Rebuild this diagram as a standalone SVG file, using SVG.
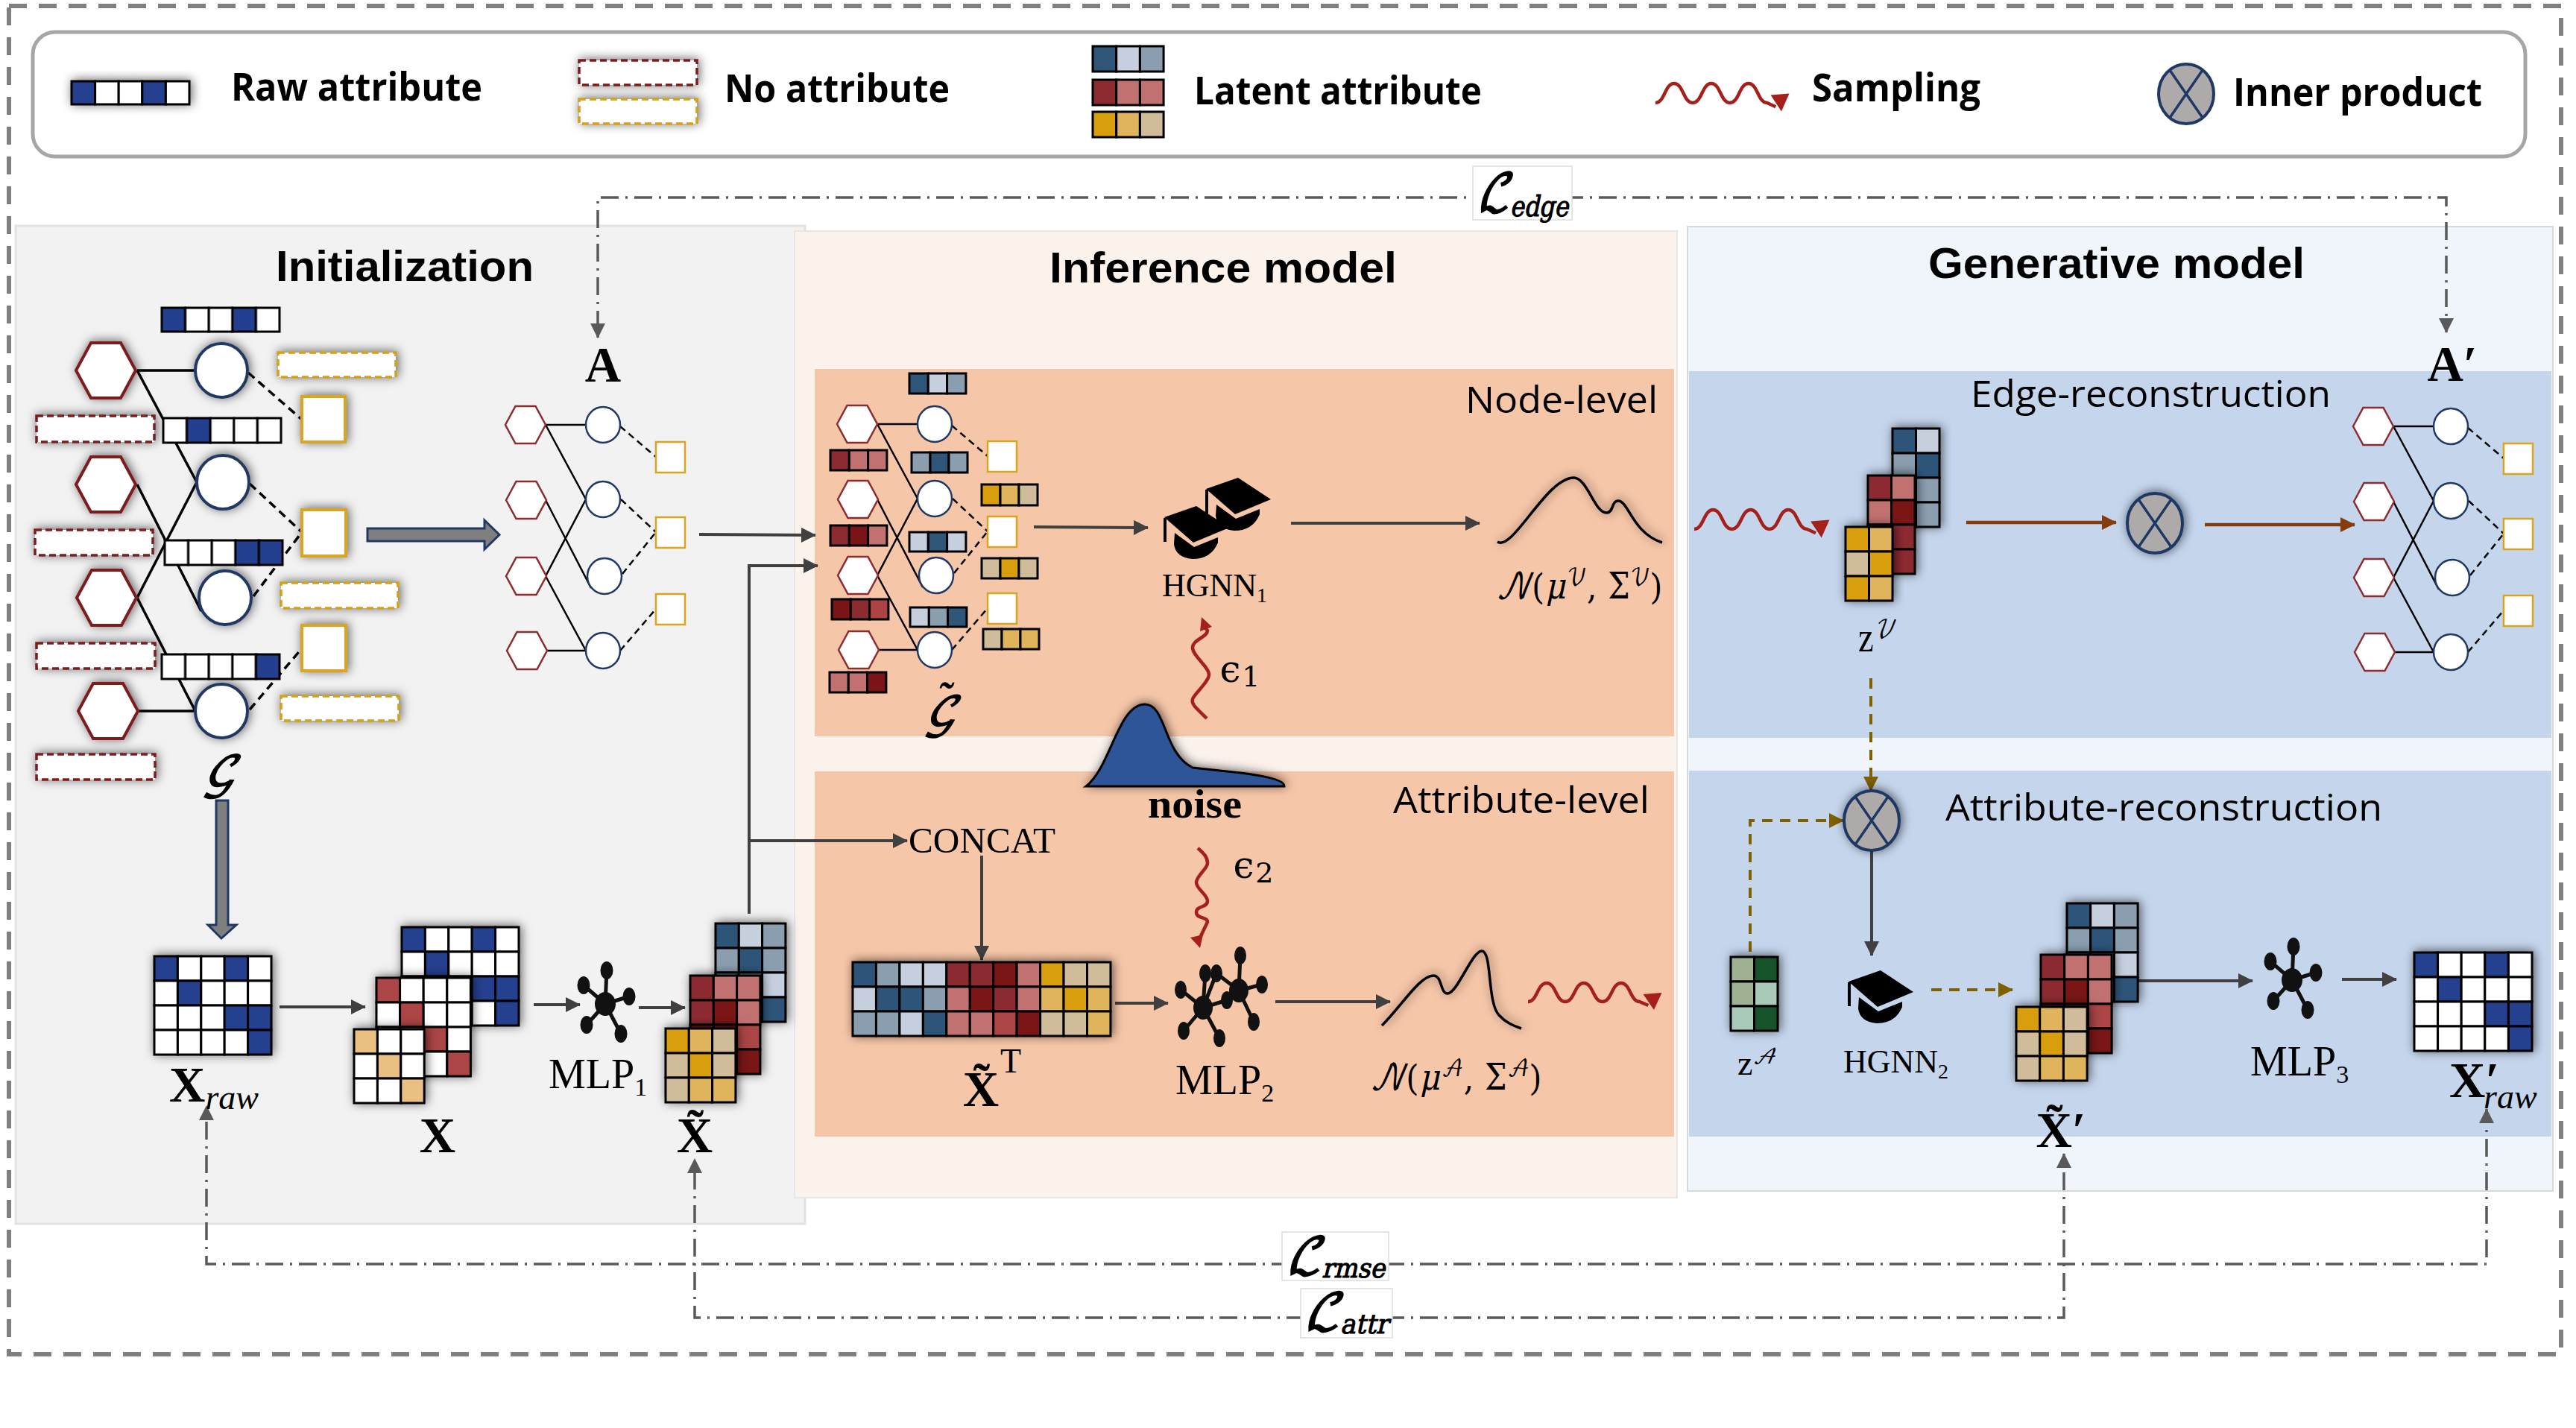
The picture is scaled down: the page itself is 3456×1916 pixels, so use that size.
<svg xmlns="http://www.w3.org/2000/svg" width="3456" height="1916" viewBox="0 0 3456 1916">
<style>
text{font-family:"Liberation Serif","DejaVu Math TeX Gyre","DejaVu Serif",serif;fill:#000}
.sb{font-family:"Open Sans","Noto Sans",sans-serif;font-weight:700;font-size:52px}
.sr{font-family:"Open Sans","Noto Sans",sans-serif;font-size:50px}
.ti{font-family:"Liberation Sans",sans-serif;font-weight:700;font-size:58px}
.lab{font-size:56px}
.labs{font-size:34px}
.big{font-size:67px;font-weight:700}
.it{font-style:italic}
.math{font-family:"DejaVu Math TeX Gyre","Liberation Serif",serif}
.ns{vector-effect:non-scaling-stroke}
#u{vector-effect:non-scaling-stroke;stroke:#000;stroke-width:3}
.w{fill:#fff}.b{fill:#253f90}.d{fill:#2f5579}.l{fill:#c6cfdd}.m{fill:#8a9eaf}.r{fill:#8c2b30}.D{fill:#7a1417}.p{fill:#c07170}.s{fill:#ac4444}.O{fill:#d99e0c}.Y{fill:#dfb45c}.T{fill:#d0bc9a}.o{fill:#e9c082}.g1{fill:#9fb093}.g2{fill:#12522a}.g3{fill:#a9c9b9}
.hexl{fill:#fff;stroke:#7b1c1f;stroke-width:4}
.circl{fill:#fff;stroke:#203864;stroke-width:4}
.sql{fill:#fff;stroke:#d9a520;stroke-width:4}
.hexs{fill:#fff;stroke:#8c2b30;stroke-width:2.5}
.circs{fill:#fff;stroke:#203864;stroke-width:2.5}
.sqs{fill:#fff;stroke:#d9a520;stroke-width:2.5}
.e{fill:none;stroke:#000;stroke-width:2.5}
.ed{fill:none;stroke:#000;stroke-width:2.5;stroke-dasharray:9 6}
.da{fill:#fff;stroke:#7b1c1f;stroke-width:3.5;stroke-dasharray:9 5}
.dy{fill:#fff;stroke:#d4a017;stroke-width:3.5;stroke-dasharray:9 5}
.ar{fill:none;stroke:#404040;stroke-width:4;marker-end:url(#mA)}
.br{fill:none;stroke:#843c0c;stroke-width:4.500;marker-end:url(#mB)}
.go{fill:none;stroke:#7f6000;stroke-width:4;stroke-dasharray:14 10;marker-end:url(#mG)}
.dd{fill:none;stroke:#595959;stroke-width:3.5;stroke-dasharray:24 9 3 9;marker-end:url(#mD)}
.red{fill:none;stroke:#a5201a;stroke-width:4.5}
.redf{fill:#a5201a}
.ip{fill:#aeaaaa;stroke:#1f3864;stroke-width:4}
.lossbox{fill:#fff;stroke:#ddd;stroke-width:1.5}
.curve{fill:none;stroke:#000;stroke-width:3.5}
.fat{fill:#7f7f7f;stroke:#203864;stroke-width:3}
.g2s{font-size:36px}
</style>
<defs>
<filter id="sh" x="-25%" y="-45%" width="150%" height="190%"><feDropShadow dx="2" dy="-1" stdDeviation="7" flood-color="#000" flood-opacity=".6"/></filter>
<marker id="mA" viewBox="0 0 10 10" refX="9.500" refY="5" markerWidth="22" markerHeight="20" orient="auto" markerUnits="userSpaceOnUse"><path d="M0 0L10 5L0 10z" fill="#404040"/></marker>
<marker id="mB" viewBox="0 0 10 10" refX="9.500" refY="5" markerWidth="22" markerHeight="20" orient="auto" markerUnits="userSpaceOnUse"><path d="M0 0L10 5L0 10z" fill="#843c0c"/></marker>
<marker id="mG" viewBox="0 0 10 10" refX="9.500" refY="5" markerWidth="22" markerHeight="20" orient="auto" markerUnits="userSpaceOnUse"><path d="M0 0L10 5L0 10z" fill="#7f6000"/></marker>
<marker id="mD" viewBox="0 0 10 10" refX="9.500" refY="5" markerWidth="20" markerHeight="20" orient="auto" markerUnits="userSpaceOnUse"><path d="M0 0L10 5L0 10z" fill="#595959"/></marker>
<rect id="u" width="1" height="1"/>
<path id="hex" class="ns" d="M-1 0L-.5 -1H.5L1 0L.5 1H-.5Z"/>
<circle id="circ" class="ns" r="1"/>
<g id="mRaw" fill="#fff">
<use href="#u" class="b"/><use href="#u" x="1"/><use href="#u" x="2"/><use href="#u" x="3" class="b"/><use href="#u" x="4"/>
<use href="#u" y="1"/><use href="#u" x="1" y="1" class="b"/><use href="#u" x="2" y="1"/><use href="#u" x="3" y="1"/><use href="#u" x="4" y="1"/>
<use href="#u" y="2"/><use href="#u" x="1" y="2"/><use href="#u" x="2" y="2"/><use href="#u" x="3" y="2" class="b"/><use href="#u" x="4" y="2" class="b"/>
<use href="#u" y="3"/><use href="#u" x="1" y="3"/><use href="#u" x="2" y="3"/><use href="#u" x="3" y="3"/><use href="#u" x="4" y="3" class="b"/>
</g>
<g id="mB3">
<use href="#u" class="d"/><use href="#u" x="1" class="l"/><use href="#u" x="2" class="m"/>
<use href="#u" y="1" class="m"/><use href="#u" x="1" y="1" class="d"/><use href="#u" x="2" y="1" class="m"/>
<use href="#u" y="2" class="m"/><use href="#u" x="1" y="2" class="m"/><use href="#u" x="2" y="2" class="l"/>
<use href="#u" y="3" class="m"/><use href="#u" x="1" y="3" class="m"/><use href="#u" x="2" y="3" class="d"/>
</g>
<g id="mR3">
<use href="#u" class="r"/><use href="#u" x="1" class="p"/><use href="#u" x="2" class="p"/>
<use href="#u" y="1" class="r"/><use href="#u" x="1" y="1" class="D"/><use href="#u" x="2" y="1" class="p"/>
<use href="#u" y="2" class="D"/><use href="#u" x="1" y="2" class="D"/><use href="#u" x="2" y="2" class="s"/>
<use href="#u" y="3" class="r"/><use href="#u" x="1" y="3" class="r"/><use href="#u" x="2" y="3" class="D"/>
</g>
<g id="mY3">
<use href="#u" class="O"/><use href="#u" x="1" class="Y"/><use href="#u" x="2" class="T"/>
<use href="#u" y="1" class="T"/><use href="#u" x="1" y="1" class="O"/><use href="#u" x="2" y="1" class="T"/>
<use href="#u" y="2" class="T"/><use href="#u" x="1" y="2" class="Y"/><use href="#u" x="2" y="2" class="Y"/>
</g>
<g id="wave"><path class="red ns" d="M0 25C13 25 13 0 26 0S39 25 52 25S65 0 78 0S91 25 104 25S117 0 130 0S143 25 156 25L168 30"/><path class="redf" d="M161 15L187 13L176 36Z"/></g>
<g id="cap"><path d="M0 -24L44 5L-4 25L-43 -9Z" fill="#000"/><path d="M-29 12L-3 31L29 18V25Q20 47 -5 47Q-28 45 -30 27Z" fill="#000"/><path d="M-42 -8V24" stroke="#000" stroke-width="4" fill="none"/></g>
<g id="star"><path d="M0 0L2 -45M0 0L-29 -25M0 0L32 -10M0 0L-25 28M0 0L21 40" stroke="#111" stroke-width="5" fill="none"/><ellipse rx="14" ry="16" fill="#111"/><ellipse cx="2" cy="-45" rx="8.500" ry="12" fill="#111"/><ellipse cx="-29" cy="-25" rx="8.500" ry="12" fill="#111"/><ellipse cx="32" cy="-10" rx="8.500" ry="12" fill="#111"/><ellipse cx="-25" cy="28" rx="8.500" ry="12" fill="#111"/><ellipse cx="21" cy="40" rx="8.500" ry="12" fill="#111"/></g>
<g id="smallEdges"><path class="e" d="M27 0H81M27 0L81 100M27 101L88 219M27 203L81 100M27 203L81 303M27 303H81"/><path class="ed" d="M127 2L175 43M128 100L175 144M130 200L175 144M127 303L175 247"/></g>
<g id="smallNodes">
<use href="#hex" class="hexs" transform="translate(0 0) scale(27 25)"/><use href="#hex" class="hexs" transform="translate(1 101) scale(27 25)"/><use href="#hex" class="hexs" transform="translate(1 203) scale(27 25)"/><use href="#hex" class="hexs" transform="translate(2 303) scale(27 25)"/>
<use href="#circ" class="circs" transform="translate(104 0) scale(23 24)"/><use href="#circ" class="circs" transform="translate(104 100) scale(23 24)"/><use href="#circ" class="circs" transform="translate(106 203) scale(23 24)"/><use href="#circ" class="circs" transform="translate(104 303) scale(23 24)"/>
<rect class="sqs" x="175" y="23" width="39" height="41"/><rect class="sqs" x="175" y="124" width="39" height="41"/><rect class="sqs" x="175" y="227" width="39" height="41"/>
</g>
<g id="ipm"><ellipse class="ip" rx="37" ry="40"/><path d="M-22 -32L22 32M22 -32L-22 32" stroke="#1f3864" stroke-width="3.5" fill="none"/></g>
</defs>

<g id="frame"><rect x="12" y="8" width="3424" height="1809" fill="none" stroke="#808080" stroke-width="6" stroke-dasharray="24 16"/></g>

<g id="panels">
<rect x="21" y="303" width="1059" height="1339" fill="#f2f2f2" stroke="#e2e2e2" stroke-width="3"/>
<rect x="1066" y="310" width="1184" height="1297" fill="#fbf2ec" stroke="#e6e6e6" stroke-width="2"/>
<rect x="2264" y="304" width="1161" height="1294" fill="#eff5fa" stroke="#d9d9d9" stroke-width="2"/>
<rect x="1093" y="495" width="1153" height="493" fill="#f6c6a8"/>
<rect x="1093" y="1035" width="1153" height="490" fill="#f6c6a8"/>
<rect x="2266" y="498" width="1157" height="492" fill="#c5d5ec"/>
<rect x="2266" y="1034" width="1157" height="491" fill="#c5d5ec"/>
<text class="ti" x="370" y="377" textLength="346" lengthAdjust="spacingAndGlyphs">Initialization</text>
<text class="ti" x="1408" y="379" textLength="466" lengthAdjust="spacingAndGlyphs">Inference model</text>
<text class="ti" x="2587" y="373" textLength="505" lengthAdjust="spacingAndGlyphs">Generative model</text>
<text class="sr" x="1966" y="554" textLength="258" lengthAdjust="spacingAndGlyphs">Node-level</text>
<text class="sr" x="1869" y="1091" textLength="344" lengthAdjust="spacingAndGlyphs">Attribute-level</text>
<text class="sr" x="2644" y="546" textLength="483" lengthAdjust="spacingAndGlyphs">Edge-reconstruction</text>
<text class="sr" x="2610" y="1101" textLength="586" lengthAdjust="spacingAndGlyphs">Attribute-reconstruction</text>
</g>

<g id="legend">
<rect x="44" y="43" width="3344" height="167" rx="30" fill="#fff" stroke="#a6a6a6" stroke-width="5"/>
<g id="legend-raw"><g filter="url(#sh)"><g transform="translate(96 109) scale(31.6 31)" fill="#fff"><use href="#u" class="b"/><use href="#u" x="1"/><use href="#u" x="2"/><use href="#u" x="3" class="b"/><use href="#u" x="4"/></g></g>
<text class="sb" x="310" y="135" textLength="337" lengthAdjust="spacingAndGlyphs">Raw attribute</text></g>
<g id="legend-none"><rect class="da" x="777" y="81" width="158" height="33" filter="url(#sh)"/><rect class="dy" x="777" y="133" width="158" height="33" filter="url(#sh)"/>
<text class="sb" x="972" y="137" textLength="302" lengthAdjust="spacingAndGlyphs">No attribute</text></g>
<g id="legend-latent">
<g transform="translate(1466 62) scale(31.7 34)"><use href="#u" class="d"/><use href="#u" x="1" class="l"/><use href="#u" x="2" class="m"/></g>
<g transform="translate(1466 107) scale(31.7 34)"><use href="#u" class="r"/><use href="#u" x="1" class="p"/><use href="#u" x="2" class="p"/></g>
<g transform="translate(1466 150) scale(31.7 34)"><use href="#u" class="O"/><use href="#u" x="1" class="Y"/><use href="#u" x="2" class="T"/></g>
<text class="sb" x="1602" y="140" textLength="386" lengthAdjust="spacingAndGlyphs">Latent attribute</text></g>
<g id="legend-sampling"><use href="#wave" transform="translate(2221 112) scale(.96 1.04)"/>
<text class="sb" x="2431" y="136" textLength="226" lengthAdjust="spacingAndGlyphs">Sampling</text></g>
<g id="legend-inner"><use href="#ipm" transform="translate(2933 126)"/>
<text class="sb" x="2996" y="142" textLength="334" lengthAdjust="spacingAndGlyphs">Inner product</text></g>
</g>

<g id="connectors">
<path class="dd" d="M2000 265H802V453"/>
<path class="dd" d="M2100 265H3282V446"/>
<path class="dd" d="M1730 1696H277V1484"/>
<path class="dd" d="M1860 1696H3336V1488"/>
<path class="dd" d="M1750 1768H932V1555"/>
<path class="dd" d="M1860 1768H2769V1548"/>
<path class="ar" d="M938 717L1094 718"/>
<path class="ar" d="M1005 1226V759H1097"/>
<path class="ar" d="M1005 1128H1217"/>
<path class="ar" d="M1317 1148V1288"/>
<path class="ar" d="M1387 707L1540 708"/>
<path class="ar" d="M1732 702H1985"/>
<path class="ar" d="M1496 1346H1567"/>
<path class="ar" d="M1711 1344H1865"/>
<path class="ar" d="M375 1351H490"/>
<path class="ar" d="M716 1348H778"/>
<path class="ar" d="M857 1352H919"/>
<path class="ar" d="M2511 1141V1282"/>
<path class="ar" d="M2868 1316H3022"/>
<path class="ar" d="M3142 1314H3215"/>
<path class="br" d="M2638 701H2839"/>
<path class="br" d="M2958 704H3159"/>
<path class="go" d="M2510 910V1061"/>
<path class="go" d="M2348 1277V1101H2473"/>
<path class="go" d="M2591 1328H2700"/>
<path class="fat" d="M493 709H650V698L670 717.500L650 737V726H493Z"/>
<path class="fat" d="M290 1074H306V1241H317L297 1259L279 1241H290Z"/>
</g>

<g id="loss-edge"><rect class="lossbox" x="1976" y="223" width="133" height="72"/><text x="1982" y="282" class="math it" font-size="68" font-weight="700" textLength="122" lengthAdjust="spacingAndGlyphs">ℒ<tspan font-size="38" dy="8">edge</tspan></text></g>
<g id="loss-rmse"><rect class="lossbox" x="1720" y="1653" width="143" height="65"/><text x="1726" y="1708" class="math it" font-size="66" font-weight="700" textLength="132" lengthAdjust="spacingAndGlyphs">ℒ<tspan font-size="36" dy="6">rmse</tspan></text></g>
<g id="loss-attr"><rect class="lossbox" x="1745" y="1729" width="123" height="66"/><text x="1750" y="1783" class="math it" font-size="66" font-weight="700" textLength="112" lengthAdjust="spacingAndGlyphs">ℒ<tspan font-size="36" dy="6">attr</tspan></text></g>

<g id="node-G">
<g><path d="M184 497H263M184 497L264 647M184 650L270 820M184 802L264 647M184 802L262 954M186 954H262" fill="none" stroke="#000" stroke-width="3.500"/>
<path d="M333 500L405 563M335 649L405 714M340 800L405 714M335 952L405 870" fill="none" stroke="#000" stroke-width="3.500" stroke-dasharray="11 7"/></g>
<g filter="url(#sh)">
<use href="#hex" class="hexl" transform="translate(142 497) scale(40 37)"/><use href="#hex" class="hexl" transform="translate(142 650) scale(40 37)"/><use href="#hex" class="hexl" transform="translate(143 802) scale(40 37)"/><use href="#hex" class="hexl" transform="translate(145 954) scale(40 37)"/>
<use href="#circ" class="circl" transform="translate(297 497) scale(35 36)"/><use href="#circ" class="circl" transform="translate(299 647) scale(35 36)"/><use href="#circ" class="circl" transform="translate(302 802) scale(35 36)"/><use href="#circ" class="circl" transform="translate(297 954) scale(35 36)"/>
<rect class="sql" x="405" y="532" width="58" height="61"/><rect class="sql" x="405" y="684" width="59" height="62"/><rect class="sql" x="405" y="839" width="59" height="61"/>
<rect class="da" x="49" y="558" width="158" height="35"/><rect class="da" x="47" y="711" width="158" height="34"/><rect class="da" x="49" y="863" width="159" height="34"/><rect class="da" x="49" y="1012" width="159" height="34"/>
<rect class="dy" x="373" y="473" width="158" height="33"/><rect class="dy" x="377" y="782" width="157" height="34"/><rect class="dy" x="377" y="934" width="158" height="33"/>
</g>
<g fill="#fff">
<g transform="translate(217 413) scale(31.6 32)"><use href="#u" class="b"/><use href="#u" x="1"/><use href="#u" x="2"/><use href="#u" x="3" class="b"/><use href="#u" x="4"/></g>
<g transform="translate(219 561) scale(31.6 33)"><use href="#u"/><use href="#u" x="1" class="b"/><use href="#u" x="2"/><use href="#u" x="3"/><use href="#u" x="4"/></g>
<g transform="translate(221 725) scale(31.6 33)"><use href="#u"/><use href="#u" x="1"/><use href="#u" x="2"/><use href="#u" x="3" class="b"/><use href="#u" x="4" class="b"/></g>
<g transform="translate(217 878) scale(31.6 33)"><use href="#u"/><use href="#u" x="1"/><use href="#u" x="2"/><use href="#u" x="3"/><use href="#u" x="4" class="b"/></g>
</g>
<text class="math it" x="295" y="1056" font-size="58" font-weight="700" text-anchor="middle">𝒢</text>
</g>

<g id="node-A"><g transform="translate(705 570)"><use href="#smallEdges"/><use href="#smallNodes"/></g>
<text class="big" x="809" y="512" text-anchor="middle">A</text></g>

<g id="node-Xraw"><g filter="url(#sh)"><g transform="translate(207 1283) scale(31.4 33)"><use href="#mRaw"/></g></g>
<text class="big" x="227" y="1478">X<tspan class="it" style="font-size:46px;font-weight:400" dy="10">raw</tspan></text></g>

<g id="node-X">
<g filter="url(#sh)"><g transform="translate(539 1244) scale(31.4 33)"><use href="#mRaw"/></g></g>
<g filter="url(#sh)"><g transform="translate(505 1312) scale(31.6 33)" fill="#fff">
<use href="#u" class="s"/><use href="#u" x="1"/><use href="#u" x="2"/><use href="#u" x="3"/>
<use href="#u" y="1"/><use href="#u" x="1" y="1" class="s"/><use href="#u" x="2" y="1"/><use href="#u" x="3" y="1"/>
<use href="#u" y="2"/><use href="#u" x="1" y="2"/><use href="#u" x="2" y="2" class="s"/><use href="#u" x="3" y="2"/>
<use href="#u" y="3"/><use href="#u" x="1" y="3"/><use href="#u" x="2" y="3"/><use href="#u" x="3" y="3" class="s"/>
</g></g>
<g filter="url(#sh)"><g transform="translate(475 1381) scale(31.4 33)" fill="#fff">
<use href="#u" class="o"/><use href="#u" x="1"/><use href="#u" x="2"/>
<use href="#u" y="1"/><use href="#u" x="1" y="1" class="o"/><use href="#u" x="2" y="1"/>
<use href="#u" y="2"/><use href="#u" x="1" y="2"/><use href="#u" x="2" y="2" class="o"/>
</g></g>
<text class="big" x="587" y="1546" text-anchor="middle">X</text></g>

<g id="node-MLP1"><use href="#star" transform="translate(812 1347)"/><text class="lab" x="736" y="1460">MLP<tspan class="labs" dy="10">1</tspan></text></g>

<g id="node-Xt">
<g filter="url(#sh)"><g transform="translate(960 1239) scale(31.3 33)"><use href="#mB3"/></g></g>
<g filter="url(#sh)"><g transform="translate(926 1309) scale(31.3 33)"><use href="#mR3"/></g></g>
<g filter="url(#sh)"><g transform="translate(893 1380) scale(31.3 33)"><use href="#mY3"/></g></g>
<text class="big" x="932" y="1546" text-anchor="middle">X̃</text></g>

<g id="node-Gt"><g transform="translate(1150 569)"><use href="#smallEdges"/><use href="#smallNodes"/></g>
<g transform="translate(1220 501) scale(25.3 27)"><use href="#u" class="d"/><use href="#u" x="1" class="l"/><use href="#u" x="2" class="m"/></g>
<g transform="translate(1223 607) scale(25 27)"><use href="#u" class="m"/><use href="#u" x="1" class="d"/><use href="#u" x="2" class="m"/></g>
<g transform="translate(1220 714) scale(25.3 26)"><use href="#u" class="l"/><use href="#u" x="1" class="d"/><use href="#u" x="2" class="l"/></g>
<g transform="translate(1221 815) scale(25.3 26)"><use href="#u" class="l"/><use href="#u" x="1" class="m"/><use href="#u" x="2" class="d"/></g>
<g transform="translate(1114 604) scale(25.3 27)"><use href="#u" class="r"/><use href="#u" x="1" class="p"/><use href="#u" x="2" class="p"/></g>
<g transform="translate(1114 705) scale(25.3 27)"><use href="#u" class="r"/><use href="#u" x="1" class="D"/><use href="#u" x="2" class="p"/></g>
<g transform="translate(1116 804) scale(25.3 27)"><use href="#u" class="D"/><use href="#u" x="1" class="r"/><use href="#u" x="2" class="s"/></g>
<g transform="translate(1113 902) scale(25.3 27)"><use href="#u" class="p"/><use href="#u" x="1" class="p"/><use href="#u" x="2" class="D"/></g>
<g transform="translate(1317 650) scale(25 28)"><use href="#u" class="O"/><use href="#u" x="1" class="Y"/><use href="#u" x="2" class="T"/></g>
<g transform="translate(1317 749) scale(25 27)"><use href="#u" class="T"/><use href="#u" x="1" class="O"/><use href="#u" x="2" class="T"/></g>
<g transform="translate(1319 844) scale(25 27)"><use href="#u" class="T"/><use href="#u" x="1" class="Y"/><use href="#u" x="2" class="Y"/></g>
<text class="math it" x="1241" y="975" font-size="56" font-weight="700">𝒢<tspan x="1258" y="955" style="font-family:'Liberation Serif';font-size:56px">˜</tspan></text></g>

<g id="node-HGNN1"><use href="#cap" transform="translate(1661 665)"/><use href="#cap" transform="translate(1605 703)"/><text x="1559" y="800" style="font-size:44px">HGNN<tspan style="font-size:28px" dy="8">1</tspan></text></g>

<g id="node-NV"><path class="curve" filter="url(#sh)" d="M2009 727C2030 740 2075 640 2112 641C2130 642 2140 690 2156 688C2165 687 2162 672 2171 672C2185 672 2190 715 2230 728"/>
<text x="2007" y="803" style="font-size:48px" class="math" textLength="225" lengthAdjust="spacingAndGlyphs"><tspan class="it">𝒩</tspan>(<tspan class="it">μ</tspan><tspan style="font-size:32px" dy="-18">𝒱</tspan><tspan dy="18">, Σ</tspan><tspan style="font-size:32px" dy="-18">𝒱</tspan><tspan dy="18">)</tspan></text></g>

<g id="node-eps1"><path class="red" d="M1619 964C1605 950 1598 945 1600 938S1622 915 1622 905S1600 880 1600 869S1620 855 1620 846L1613 838"/><path class="redf" d="M1612 828L1626 841L1610 847Z"/><text x="1635" y="915" style="font-size:50px" class="math">ϵ<tspan dy="6" style="font-size:38px">1</tspan></text></g>

<g id="node-noise"><path filter="url(#sh)" d="M1457 1055C1490 1030 1500 945 1536 945C1565 945 1560 1010 1600 1030C1640 1035 1725 1040 1723 1055Z" fill="#2f5597" stroke="#000" stroke-width="3"/>
<text x="1540" y="1097" style="font-size:54px;font-weight:700" textLength="126" lengthAdjust="spacingAndGlyphs">noise</text></g>

<g id="node-eps2"><path class="red" d="M1607 1138C1615 1145 1620 1150 1620 1158S1605 1175 1605 1184S1620 1200 1620 1209S1605 1215 1605 1224S1620 1230 1620 1237L1610 1258"/><path class="redf" d="M1597 1258L1614 1254L1610 1272Z"/><text x="1653" y="1178" style="font-size:50px" class="math">ϵ<tspan dy="6" style="font-size:38px">2</tspan></text></g>

<g id="node-CONCAT"><text x="1219" y="1144" style="font-size:48px" textLength="197" lengthAdjust="spacingAndGlyphs">CONCAT</text></g>

<g id="node-XtT"><g filter="url(#sh)"><g transform="translate(1144 1291) scale(31.45 33)">
<use href="#u" class="d"/><use href="#u" x="1" class="m"/><use href="#u" x="2" class="l"/><use href="#u" x="3" class="l"/><use href="#u" x="4" class="r"/><use href="#u" x="5" class="r"/><use href="#u" x="6" class="D"/><use href="#u" x="7" class="p"/><use href="#u" x="8" class="O"/><use href="#u" x="9" class="T"/><use href="#u" x="10" class="T"/>
<use href="#u" y="1" class="l"/><use href="#u" x="1" y="1" class="d"/><use href="#u" x="2" y="1" class="d"/><use href="#u" x="3" y="1" class="m"/><use href="#u" x="4" y="1" class="p"/><use href="#u" x="5" y="1" class="D"/><use href="#u" x="6" y="1" class="r"/><use href="#u" x="7" y="1" class="p"/><use href="#u" x="8" y="1" class="Y"/><use href="#u" x="9" y="1" class="O"/><use href="#u" x="10" y="1" class="Y"/>
<use href="#u" y="2" class="m"/><use href="#u" x="1" y="2" class="m"/><use href="#u" x="2" y="2" class="l"/><use href="#u" x="3" y="2" class="d"/><use href="#u" x="4" y="2" class="p"/><use href="#u" x="5" y="2" class="p"/><use href="#u" x="6" y="2" class="s"/><use href="#u" x="7" y="2" class="D"/><use href="#u" x="8" y="2" class="T"/><use href="#u" x="9" y="2" class="T"/><use href="#u" x="10" y="2" class="Y"/>
</g></g>
<text class="big" x="1316" y="1484" text-anchor="middle">X̃</text><text x="1342" y="1439" style="font-size:46px">T</text></g>

<g id="node-MLP2"><path d="M1614 1352L1632 1306M1614 1352L1617 1306M1614 1352L1584 1328M1614 1352L1646 1342M1614 1352L1588 1383M1614 1352L1636 1393M1662 1329L1664 1282M1662 1329L1693 1321M1662 1329L1682 1371M1662 1329L1632 1306M1662 1329L1646 1342" stroke="#111" stroke-width="5" fill="none"/>
<g fill="#111"><ellipse cx="1614" cy="1352" rx="13" ry="16"/><ellipse cx="1662" cy="1329" rx="13" ry="16"/><ellipse cx="1664" cy="1282" rx="8" ry="12"/><ellipse cx="1693" cy="1321" rx="8" ry="12"/><ellipse cx="1682" cy="1371" rx="8" ry="12"/><ellipse cx="1632" cy="1306" rx="8" ry="12"/><ellipse cx="1617" cy="1306" rx="8" ry="12"/><ellipse cx="1584" cy="1328" rx="8" ry="12"/><ellipse cx="1646" cy="1342" rx="8" ry="12"/><ellipse cx="1588" cy="1383" rx="8" ry="12"/><ellipse cx="1636" cy="1393" rx="8" ry="12"/></g>
<text class="lab" x="1577" y="1468">MLP<tspan class="labs" dy="10">2</tspan></text></g>

<g id="node-NA"><path class="curve" filter="url(#sh)" d="M1854 1376C1880 1350 1905 1309 1923 1309C1935 1309 1932 1333 1942 1333C1955 1333 1975 1276 1988 1276C2002 1276 1995 1345 2011 1362C2020 1372 2030 1376 2041 1380"/>
<text x="1838" y="1462" style="font-size:48px" class="math" textLength="232" lengthAdjust="spacingAndGlyphs"><tspan class="it">𝒩</tspan>(<tspan class="it">μ</tspan><tspan style="font-size:32px" dy="-18">𝒜</tspan><tspan dy="18">, Σ</tspan><tspan style="font-size:32px" dy="-18">𝒜</tspan><tspan dy="18">)</tspan></text></g>

<g id="node-wave-a"><use href="#wave" transform="translate(2050 1319) scale(.96 1)"/></g>
<g id="node-wave-v"><use href="#wave" transform="translate(2273 684) scale(.97 1.04)"/></g>

<g id="node-zV">
<g filter="url(#sh)"><g transform="translate(2539 575) scale(31.5 33)"><use href="#u" class="d"/><use href="#u" x="1" class="l"/><use href="#u" y="1" class="m"/><use href="#u" x="1" y="1" class="d"/><use href="#u" y="2" class="m"/><use href="#u" x="1" y="2" class="m"/><use href="#u" y="3" class="m"/><use href="#u" x="1" y="3" class="m"/></g></g>
<g filter="url(#sh)"><g transform="translate(2506 638) scale(31.5 33)"><use href="#u" class="r"/><use href="#u" x="1" class="p"/><use href="#u" y="1" class="p"/><use href="#u" x="1" y="1" class="D"/><use href="#u" y="2" class="r"/><use href="#u" x="1" y="2" class="r"/><use href="#u" y="3" class="r"/><use href="#u" x="1" y="3" class="r"/></g></g>
<g filter="url(#sh)"><g transform="translate(2476 707) scale(31.5 33)"><use href="#u" class="O"/><use href="#u" x="1" class="Y"/><use href="#u" y="1" class="T"/><use href="#u" x="1" y="1" class="O"/><use href="#u" y="2" class="O"/><use href="#u" x="1" y="2" class="Y"/></g></g>
<text x="2493" y="874" style="font-size:56px" textLength="48" lengthAdjust="spacingAndGlyphs">z<tspan class="math it" style="font-size:34px" dy="-18">𝒱</tspan></text></g>

<g id="node-ip1"><use href="#ipm" filter="url(#sh)" transform="translate(2891 702)"/></g>

<g id="node-Ap"><g transform="translate(3184 572)"><use href="#smallEdges"/><use href="#smallNodes"/></g>
<text class="big" x="3290" y="511" text-anchor="middle">A′</text></g>

<g id="node-ip2"><use href="#ipm" filter="url(#sh)" transform="translate(2511 1101)"/></g>

<g id="node-zA"><g filter="url(#sh)"><g transform="translate(2322 1284) scale(31.5 33)"><use href="#u" class="g1"/><use href="#u" x="1" class="g2"/><use href="#u" y="1" class="g1"/><use href="#u" x="1" y="1" class="g3"/><use href="#u" y="2" class="g3"/><use href="#u" x="1" y="2" class="g2"/></g></g>
<text x="2331" y="1442" style="font-size:46px">z<tspan class="math it" style="font-size:28px" dy="-15">𝒜</tspan></text></g>

<g id="node-HGNN2"><use href="#cap" transform="translate(2523 1326)"/><text x="2473" y="1439" style="font-size:44px">HGNN<tspan style="font-size:28px" dy="8">2</tspan></text></g>

<g id="node-Xtp">
<g filter="url(#sh)"><g transform="translate(2773 1212) scale(31.7 33)"><use href="#mB3"/></g></g>
<g filter="url(#sh)"><g transform="translate(2738 1281) scale(31.7 33)"><use href="#mR3"/></g></g>
<g filter="url(#sh)"><g transform="translate(2705 1351) scale(31.7 33)"><use href="#mY3"/></g></g>
<text class="big" x="2765" y="1539" text-anchor="middle">X̃′</text></g>

<g id="node-MLP3"><use href="#star" transform="translate(3075 1315)"/><text class="lab" x="3019" y="1443">MLP<tspan class="labs" dy="10">3</tspan></text></g>

<g id="node-Xrawp"><g filter="url(#sh)"><g transform="translate(3239 1278) scale(31.6 33)"><use href="#mRaw"/></g></g>
<text class="big" x="3286" y="1472">X′<tspan class="it" x="3332" y="1487" style="font-size:46px;font-weight:400">raw</tspan></text></g>
</svg>
